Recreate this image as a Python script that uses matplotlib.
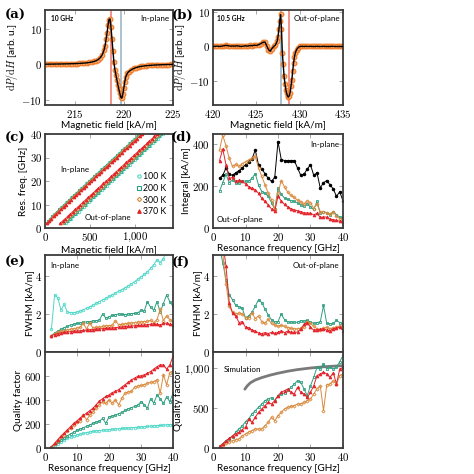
import matplotlib

matplotlib.use("Agg")
import matplotlib.pyplot as plt
from matplotlib.lines import Line2D
from matplotlib.ticker import FuncFormatter, MultipleLocator

plt.rcParams["font.family"] = ["Lato", "DejaVu Sans"]
plt.rcParams["mathtext.fontset"] = "cm"

# ---------------- data ----------------
# (a) in-plane spectrum at 10 GHz
a_field = [212.0, 212.25, 212.5, 212.75, 213.0, 213.25, 213.5, 213.75, 214.0, 214.25,
           214.5, 214.75, 215.0, 215.25, 215.5, 215.75, 216.0, 216.25, 216.5, 216.75,
           217.0, 217.2, 217.4, 217.6, 217.8, 218.0, 218.1, 218.2, 218.3, 218.4,
           218.5, 218.6, 218.7, 218.8, 218.9, 219.0, 219.1, 219.2, 219.3, 219.4,
           219.5, 219.6, 219.7, 219.8, 219.9, 220.0, 220.1, 220.2, 220.35, 220.5,
           220.75, 221.0, 221.25, 221.5, 221.75, 222.0, 222.25, 222.5, 222.75, 223.0,
           223.25, 223.5, 223.75, 224.0, 224.25, 224.5, 224.75, 225.0]
a_signal = [0.0, 0.02, 0.03, 0.04, 0.05, 0.06, 0.07, 0.08, 0.1, 0.11,
            0.13, 0.15, 0.18, 0.2, 0.24, 0.28, 0.33, 0.4, 0.5, 0.62,
            0.8, 1.0, 1.3, 1.8, 2.6, 4.0, 5.2, 7.0, 8.8, 11.0,
            12.6, 12.8, 10.5, 7.2, 3.8, 0.5, -1.5, -3.0, -4.4, -5.8,
            -7.0, -8.2, -9.3, -9.6, -8.5, -6.8, -5.0, -3.6, -2.6, -2.1,
            -1.6, -1.2, -0.95, -0.75, -0.6, -0.5, -0.42, -0.35, -0.3, -0.25,
            -0.21, -0.18, -0.15, -0.12, -0.1, -0.08, -0.06, -0.05]
a_lines = [218.7, 219.7]

# (b) out-of-plane spectrum at 10.5 GHz
b_field = [420.0, 420.25, 420.5, 420.75, 421.0, 421.25, 421.5, 421.75, 422.0, 422.25,
           422.5, 422.75, 423.0, 423.25, 423.5, 423.75, 424.0, 424.25, 424.5, 424.75,
           425.0, 425.25, 425.5, 425.75, 426.0, 426.2, 426.4, 426.6, 426.8, 427.0,
           427.2, 427.4, 427.5, 427.6, 427.7, 427.8, 427.9, 428.0, 428.1, 428.2,
           428.3, 428.4, 428.5, 428.6, 428.7, 428.8, 428.9, 429.0, 429.1, 429.2,
           429.3, 429.4, 429.5, 429.65, 429.8, 430.0, 430.25, 430.5, 430.75, 431.0,
           431.25, 431.5, 431.75, 432.0, 432.25, 432.5, 432.75, 433.0, 433.25, 433.5,
           433.75, 434.0, 434.25, 434.5, 434.75, 435.0]
b_signal = [0.0, 0.05, 0.1, 0.0, 0.1, 0.2, 0.35, 0.2, 0.1, 0.15,
            0.1, 0.2, 0.1, 0.0, 0.1, 0.2, 0.1, 0.3, 0.2, 0.4,
            0.3, 0.5, 0.8, 1.2, 1.3, 0.2, -0.9, -1.4, -0.6, 0.0,
            0.4, 1.5, 2.8, 5.0, 7.4, 9.3, 5.0, -1.8, -5.2, -8.6,
            -10.8, -12.5, -13.6, -14.4, -14.7, -14.3, -13.4, -11.5, -9.6, -7.0,
            -4.7, -3.0, -1.8, -0.9, -0.4, 0.0, 0.05, 0.0, 0.05, 0.0,
            0.05, 0.0, 0.0, 0.05, 0.0, 0.0, 0.05, 0.0, 0.0, 0.0,
            0.05, 0.0, 0.0, 0.0, 0.0, 0.0]
b_lines = [427.9, 428.8]

# resonance frequency grid [GHz]
freq = [2, 3, 4, 5, 6, 7, 8, 9, 10, 11, 12, 13, 14, 15, 16, 17, 18, 19, 20, 21,
        22, 23, 24, 25, 26, 27, 28, 29, 30, 31, 32, 33, 34, 35, 36, 37, 38, 39, 40]

# (c) resonance field [kA/m]
c_ip_100 = [17, 35, 56, 79, 104, 130, 156, 183, 210, 237, 264, 292, 320, 348, 375, 403, 431, 459, 487, 516,
            544, 572, 600, 628, 656, 685, 713, 741, 769, 798, 826, 854, 882, 911, 939, 967, 996, 1024, 1052]
c_ip_200 = [18, 37, 59, 83, 108, 134, 161, 188, 215, 243, 270, 298, 326, 354, 382, 410, 438, 466, 494, 522,
            550, 578, 607, 635, 663, 691, 720, 748, 776, 804, 833, 861, 889, 918, 946, 974, 1003, 1031, 1059]
c_ip_300 = [21, 41, 65, 90, 116, 143, 170, 197, 225, 252, 280, 308, 336, 364, 392, 420, 448, 477, 505, 533,
            561, 589, 618, 646, 674, 703, 731, 759, 788, 816, 844, 872, 901, 929, 957, 986, 1014, 1043, 1071]
c_ip_370 = [24, 46, 71, 97, 124, 152, 179, 207, 234, 262, 290, 318, 347, 375, 403, 431, 459, 488, 516, 544,
            572, 601, 629, 657, 686, 714, 742, 771, 799, 827, 856, 884, 913, 941, 969, 998, 1026, 1054, 1083]
c_op_100 = [232, 260, 289, 317, 345, 374, 402, 431, 459, 487, 516, 544, 573, 601, 630, 658, 686, 715, 743, 772,
            800, 828, 857, 885, 914, 942, 970, 999, 1027, 1056, 1084, 1112, 1141, 1169, 1198, 1226, 1254, 1283, 1311]
c_op_200 = [217, 245, 274, 302, 330, 359, 387, 416, 444, 472, 501, 529, 558, 586, 615, 643, 671, 700, 728, 757,
            785, 813, 842, 870, 899, 927, 955, 984, 1012, 1041, 1069, 1097, 1126, 1154, 1183, 1211, 1239, 1268, 1296]
c_op_300 = [192, 220, 249, 277, 305, 334, 362, 391, 419, 447, 476, 504, 533, 561, 590, 618, 646, 675, 703, 732,
            760, 788, 817, 845, 874, 902, 930, 959, 987, 1016, 1044, 1072, 1101, 1129, 1158, 1186, 1214, 1243, 1271]
c_op_370 = [167, 195, 224, 252, 280, 309, 337, 366, 394, 422, 451, 479, 508, 536, 565, 593, 621, 650, 678, 707,
            735, 763, 792, 820, 849, 877, 905, 934, 962, 991, 1019, 1047, 1076, 1104, 1133, 1161, 1189, 1218, 1246]

# (d) integral [kA/m]
d_ip = [237, 250, 285, 255, 250, 262, 272, 285, 300, 315, 328, 370, 300, 280, 258, 235, 222, 240, 410, 325,
        320, 320, 320, 320, 285, 250, 255, 280, 300, 250, 262, 190, 215, 225, 205, 185, 150, 172, 128]
d_200 = [175, 215, 255, 215, 228, 215, 212, 225, 222, 222, 236, 258, 205, 173, 165, 150, 120, 88, 189, 160,
         142, 136, 130, 126, 118, 110, 104, 115, 100, 88, 126, 72, 78, 72, 63, 78, 63, 52, 47]
d_300 = [370, 440, 390, 330, 292, 302, 292, 305, 315, 322, 330, 340, 285, 245, 205, 165, 135, 90, 165, 225,
         195, 170, 155, 145, 132, 125, 112, 130, 120, 92, 115, 75, 78, 72, 65, 78, 55, 45, 38]
d_370 = [320, 375, 300, 235, 240, 222, 226, 222, 210, 196, 189, 181, 165, 141, 126, 110, 90, 80, 150, 128,
         112, 100, 92, 86, 82, 78, 72, 71, 70, 62, 70, 50, 52, 52, 42, 40, 36, 32, 27]

# (e) in-plane FWHM [kA/m] and quality factor
e_fwhm_100 = [1.2, 3.0, 2.85, 2.2, 2.5, 2.1, 2.07, 2.07, 2.1, 2.15, 2.22, 2.3, 2.38, 2.47, 2.56, 2.65, 2.74, 2.82,
              2.92, 3.0, 3.1, 3.2, 3.28, 3.37, 3.48, 3.58, 3.7, 3.82, 3.95, 4.08, 4.22, 4.4, 4.6, 4.85, 4.7,
              4.9, 5.4, 5.8, 6.2]
e_fwhm_200 = [0.86, 1.0, 1.1, 1.2, 1.28, 1.35, 1.42, 1.46, 1.5, 1.53, 1.56, 1.58, 1.6, 1.63, 1.65, 1.68, 2.0, 1.78,
              1.85, 1.92, 1.96, 2.0, 1.98, 1.96, 2.0, 2.01, 2.03, 2.06, 2.2, 2.15, 2.65, 2.35, 2.2, 2.65, 2.1,
              2.55, 3.0, 2.65, 2.4]
e_fwhm_300 = [0.86, 0.95, 1.05, 1.08, 1.12, 1.16, 1.2, 1.22, 1.26, 1.3, 1.5, 1.2, 1.55, 1.25, 1.3, 1.3, 1.35, 1.38,
              1.38, 1.4, 1.65, 1.43, 1.45, 1.48, 1.5, 1.52, 1.55, 1.57, 1.58, 1.6, 1.62, 1.66, 1.55, 1.7, 2.25,
              1.65, 1.9, 1.7, 1.6]
e_fwhm_370 = [0.86, 0.92, 0.97, 1.0, 1.03, 1.05, 1.07, 1.09, 1.1, 1.12, 1.14, 1.15, 1.17, 1.18, 1.2, 1.21, 1.23,
              1.24, 1.25, 1.27, 1.28, 1.3, 1.32, 1.34, 1.35, 1.37, 1.38, 1.4, 1.41, 1.42, 1.44, 1.46, 1.48, 1.45,
              1.43, 1.5, 1.52, 1.45, 1.43]
e_q_100 = [3, 15, 35, 52, 66, 80, 90, 100, 108, 115, 122, 128, 133, 138, 142, 145, 148, 150, 153, 156,
           158, 160, 162, 164, 166, 168, 170, 172, 175, 177, 180, 182, 184, 185, 187, 190, 192, 195, 188]
e_q_200 = [8, 30, 50, 68, 85, 100, 118, 132, 146, 158, 168, 180, 192, 205, 215, 222, 245, 205, 258, 265,
           272, 285, 295, 312, 325, 335, 345, 355, 385, 360, 330, 410, 372, 440, 410, 370, 425, 385, 455]
e_q_300 = [8, 35, 60, 90, 112, 140, 165, 190, 218, 225, 272, 235, 272, 300, 330, 360, 385, 370, 400, 372,
           398, 358, 412, 455, 465, 470, 505, 515, 520, 525, 538, 545, 552, 566, 455, 608, 525, 625, 640]
e_q_370 = [8, 40, 70, 100, 125, 150, 178, 205, 225, 250, 270, 290, 310, 330, 360, 390, 410, 428, 440, 460,
           470, 485, 505, 525, 545, 565, 580, 595, 600, 608, 620, 635, 655, 675, 690, 690, 655, 690, 760]

# (f) out-of-plane FWHM [kA/m] and quality factor
f_fwhm_200 = [5.5, 4.7, 3.8, 3.0, 2.75, 2.45, 2.38, 2.3, 1.8, 1.9, 2.1, 2.4, 2.75, 2.6, 2.25, 1.95, 1.7, 1.58,
              1.6, 2.0, 1.7, 1.58, 1.57, 1.57, 1.56, 1.65, 1.62, 1.66, 1.58, 1.5, 1.55, 1.58, 2.45, 1.5, 1.48,
              1.5, 1.66, 1.55, 1.48]
f_fwhm_300 = [6.0, 5.2, 3.6, 2.4, 2.1, 2.0, 2.05, 2.0, 1.8, 1.78, 2.05, 1.75, 1.9, 1.6, 1.5, 1.72, 1.5, 1.42,
              1.35, 1.4, 1.35, 1.28, 1.25, 1.22, 1.22, 1.25, 1.3, 1.6, 1.5, 1.35, 1.22, 1.15, 1.25, 1.3, 1.22,
              1.28, 1.3, 1.38, 1.25]
f_fwhm_370 = [7.0, 5.8, 4.5, 2.6, 2.05, 1.9, 1.55, 1.6, 1.3, 1.28, 1.15, 1.1, 1.0, 0.97, 1.02, 0.97, 1.03, 0.98,
              1.03, 1.12, 1.02, 1.1, 1.05, 1.03, 1.05, 1.2, 1.45, 1.55, 1.3, 1.15, 1.18, 1.2, 1.22, 1.15, 1.13,
              1.22, 1.25, 1.3, 1.12]
f_q_200 = [20, 55, 92, 115, 135, 200, 240, 275, 330, 365, 425, 467, 509, 550, 592, 613, 630, 592, 655, 670,
           690, 720, 760, 800, 842, 821, 738, 655, 780, 884, 1009, 988, 1051, 988, 1009, 988, 1009, 1080, 1155]
f_q_300 = [15, 40, 63, 78, 92, 105, 113, 150, 175, 200, 217, 238, 238, 238, 279, 321, 384, 342, 404, 446,
           488, 509, 520, 530, 550, 550, 570, 592, 613, 676, 738, 780, 467, 790, 801, 842, 801, 905, 926]
f_q_370 = [20, 50, 92, 120, 154, 180, 196, 230, 259, 363, 321, 384, 446, 488, 530, 571, 550, 592, 655, 696,
           717, 738, 696, 676, 759, 696, 676, 634, 696, 780, 905, 926, 947, 926, 884, 940, 801, 988, 1009]
sim_freq = [9.8, 10.5, 11.5, 13, 15, 17.5, 20, 23, 26, 30, 34, 38, 40]
sim_q = [735, 775, 815, 850, 880, 910, 935, 960, 980, 1000, 1015, 1025, 1030]

temps = ["100 K", "200 K", "300 K", "370 K"]
colors = {"100 K": "#4fd8c8", "200 K": "#2f9f80", "300 K": "#d98a3d", "370 K": "#e3242b"}
markers = {"100 K": "o", "200 K": "s", "300 K": "D", "370 K": "^"}
msizes = {"100 K": 1.8, "200 K": 2.0, "300 K": 1.6, "370 K": 2.0}
SPEC = "#f07a26"

FS_LAB = 7.2
FS_TICK = 7.8
FS_TXT = 5.8


def tick_fmt(v, pos):
    s = format(round(v, 6), ",g").replace(",", "{,}")
    return f"${s}$"


def style(ax):
    for sp in ax.spines.values():
        sp.set_linewidth(1.3)
        sp.set_color("#3c3c3c")
    ax.tick_params(direction="in", top=True, right=True, length=3, width=0.6,
                   color="#999999", labelsize=FS_TICK, pad=2)
    ax.xaxis.set_major_formatter(FuncFormatter(tick_fmt))
    ax.yaxis.set_major_formatter(FuncFormatter(tick_fmt))


def series(ax, x, y, t, lw=0.7):
    ax.plot(x, y, color=colors[t], marker=markers[t], ms=msizes[t], lw=lw,
            mfc="none" if t != "370 K" else colors[t], mew=0.6)


fig = plt.figure(figsize=(4.74, 4.74), dpi=100)
W = 474.0


def add_ax(left, top, right, bottom):
    return fig.add_axes([left / W, 1 - bottom / W, (right - left) / W, (bottom - top) / W])


lab_kw = dict(fontsize=FS_LAB)

# (a)
ax = add_ax(45, 10, 173, 105)
style(ax)
ax.axvline(a_lines[0], color="#f08a80", lw=1.3, zorder=1)
ax.axvline(a_lines[1], color="#a6bccb", lw=1.3, zorder=1)
ax.plot(a_field, a_signal, ls="none", marker="o", ms=3.4, mfc="#f6b07a", mec=SPEC, mew=0.8, zorder=2)
ax.plot(a_field, a_signal, color="black", lw=1.0, zorder=3)
ax.set_xlim(212, 225)
ax.set_ylim(-11.5, 15.3)
ax.xaxis.set_major_locator(MultipleLocator(5))
ax.yaxis.set_major_locator(MultipleLocator(10))
ax.set_ylabel(r"$\mathrm{d}P/\mathrm{d}H$ [arb. u.]", **lab_kw, labelpad=1)
ax.set_xlabel("Magnetic field [kA/m]", **lab_kw, labelpad=1)
ax.text(0.05, 0.88, "10 GHz", transform=ax.transAxes, fontsize=4.8, fontweight="bold")
ax.text(0.97, 0.88, "In-plane", transform=ax.transAxes, fontsize=FS_TXT, ha="right")

# (b)
ax = add_ax(213, 10, 343, 105)
style(ax)
ax.axvline(b_lines[0], color="#a6bccb", lw=1.3, zorder=1)
ax.axvline(b_lines[1], color="#f08a80", lw=1.3, zorder=1)
ax.plot(b_field, b_signal, ls="none", marker="o", ms=3.4, mfc="#f6b07a", mec=SPEC, mew=0.8, zorder=2)
ax.plot(b_field, b_signal, color="black", lw=1.0, zorder=3)
ax.set_xlim(420, 435)
ax.set_ylim(-17, 10.6)
ax.xaxis.set_major_locator(MultipleLocator(5))
ax.yaxis.set_major_locator(MultipleLocator(10))
ax.set_ylabel(r"$\mathrm{d}P/\mathrm{d}H$ [arb. u.]", **lab_kw, labelpad=1)
ax.set_xlabel("Magnetic field [kA/m]", **lab_kw, labelpad=1)
ax.text(0.03, 0.88, "10.5 GHz", transform=ax.transAxes, fontsize=4.8, fontweight="bold")
ax.text(0.98, 0.88, "Out-of-plane", transform=ax.transAxes, fontsize=FS_TXT, ha="right")

# (c)
ax = add_ax(45, 134, 173, 228)
style(ax)
for t, ip, op in zip(temps, [c_ip_100, c_ip_200, c_ip_300, c_ip_370],
                     [c_op_100, c_op_200, c_op_300, c_op_370]):
    series(ax, ip, freq, t, lw=0.5)
    series(ax, op, freq, t, lw=0.5)
ax.set_xlim(0, 1425)
ax.set_ylim(0, 40)
ax.xaxis.set_major_locator(MultipleLocator(500))
ax.yaxis.set_major_locator(MultipleLocator(10))
ax.set_ylabel("Res. freq. [GHz]", **lab_kw, labelpad=1)
ax.set_xlabel("Magnetic field [kA/m]", **lab_kw, labelpad=1)
ax.text(0.12, 0.6, "In-plane", transform=ax.transAxes, fontsize=FS_TXT)
ax.text(0.31, 0.09, "Out-of-plane", transform=ax.transAxes, fontsize=FS_TXT)
handles = [Line2D([], [], ls="none", marker=markers[t], color=colors[t], ms=msizes[t] + 0.6,
                  mfc="none" if t != "370 K" else colors[t], mew=0.8) for t in temps]
ax.legend(handles, temps, loc="lower right", bbox_to_anchor=(0.99, 0.07), frameon=False,
          fontsize=6.3, handlelength=0.5, handletextpad=0.25, labelspacing=0.3, borderpad=0.1)

# (d)
ax = add_ax(213, 134, 343, 228)
style(ax)
ax.plot(freq, d_ip, color="black", marker="o", ms=1.5, lw=0.7)
for t, y in zip(temps[1:], [d_200, d_300, d_370]):
    series(ax, freq, y, t)
ax.set_xlim(0, 40)
ax.set_ylim(0, 446)
ax.xaxis.set_major_locator(MultipleLocator(10))
ax.yaxis.set_major_locator(MultipleLocator(200))
ax.set_ylabel("Integral [kA/m]", **lab_kw, labelpad=1)
ax.set_xlabel("Resonance frequency [GHz]", **lab_kw, labelpad=1)
ax.text(0.97, 0.86, "In-plane", transform=ax.transAxes, fontsize=FS_TXT, ha="right")
ax.text(0.03, 0.06, "Out-of-plane", transform=ax.transAxes, fontsize=FS_TXT)

# (e)
ax = add_ax(45, 255, 173, 352)
style(ax)
for t, y in zip(temps, [e_fwhm_100, e_fwhm_200, e_fwhm_300, e_fwhm_370]):
    series(ax, freq, y, t)
ax.set_xlim(0, 40)
ax.set_ylim(0, 5.1)
ax.xaxis.set_major_locator(MultipleLocator(10))
ax.yaxis.set_major_locator(MultipleLocator(2))
ax.tick_params(labelbottom=False)
ax.set_ylabel("FWHM [kA/m]", **lab_kw, labelpad=1)
ax.text(0.04, 0.87, "In-plane", transform=ax.transAxes, fontsize=FS_TXT)

ax = add_ax(45, 352, 173, 448)
style(ax)
for t, y in zip(temps, [e_q_100, e_q_200, e_q_300, e_q_370]):
    series(ax, freq, y, t)
ax.set_xlim(0, 40)
ax.set_ylim(0, 797)
ax.xaxis.set_major_locator(MultipleLocator(10))
ax.yaxis.set_major_locator(MultipleLocator(200))
ax.set_ylabel("Quality factor", **lab_kw, labelpad=1)
ax.set_xlabel("Resonance frequency [GHz]", **lab_kw, labelpad=1)

# (f)
ax = add_ax(213, 255, 343, 352)
style(ax)
for t, y in zip(temps[1:], [f_fwhm_200, f_fwhm_300, f_fwhm_370]):
    series(ax, freq, y, t)
ax.set_xlim(0, 40)
ax.set_ylim(0, 5.1)
ax.xaxis.set_major_locator(MultipleLocator(10))
ax.yaxis.set_major_locator(MultipleLocator(2))
ax.tick_params(labelbottom=False)
ax.set_ylabel("FWHM [kA/m]", **lab_kw, labelpad=1)
ax.text(0.97, 0.87, "Out-of-plane", transform=ax.transAxes, fontsize=FS_TXT, ha="right")

ax = add_ax(213, 352, 343, 448)
style(ax)
ax.plot(sim_freq, sim_q, color="#7a7a7a", lw=2.0, solid_capstyle="round")
for t, y in zip(temps[1:], [f_q_200, f_q_300, f_q_370]):
    series(ax, freq, y, t)
ax.set_xlim(0, 40)
ax.set_ylim(0, 1200)
ax.xaxis.set_major_locator(MultipleLocator(10))
ax.yaxis.set_major_locator(MultipleLocator(500))
ax.set_ylabel("Quality factor", **lab_kw, labelpad=1)
ax.set_xlabel("Resonance frequency [GHz]", **lab_kw, labelpad=1)
ax.text(0.08, 0.79, "Simulation", transform=ax.transAxes, fontsize=FS_TXT)

# panel letters
for lab, x, y in [("(a)", 5, 15), ("(b)", 172, 15), ("(c)", 5, 138), ("(d)", 171, 137),
                  ("(e)", 5, 262), ("(f)", 172, 262)]:
    fig.text(x / W, 1 - y / W, lab, fontsize=9.5, fontweight="bold", family="DejaVu Serif",
             va="center", ha="left")

fig.savefig("out.png", dpi=100)
